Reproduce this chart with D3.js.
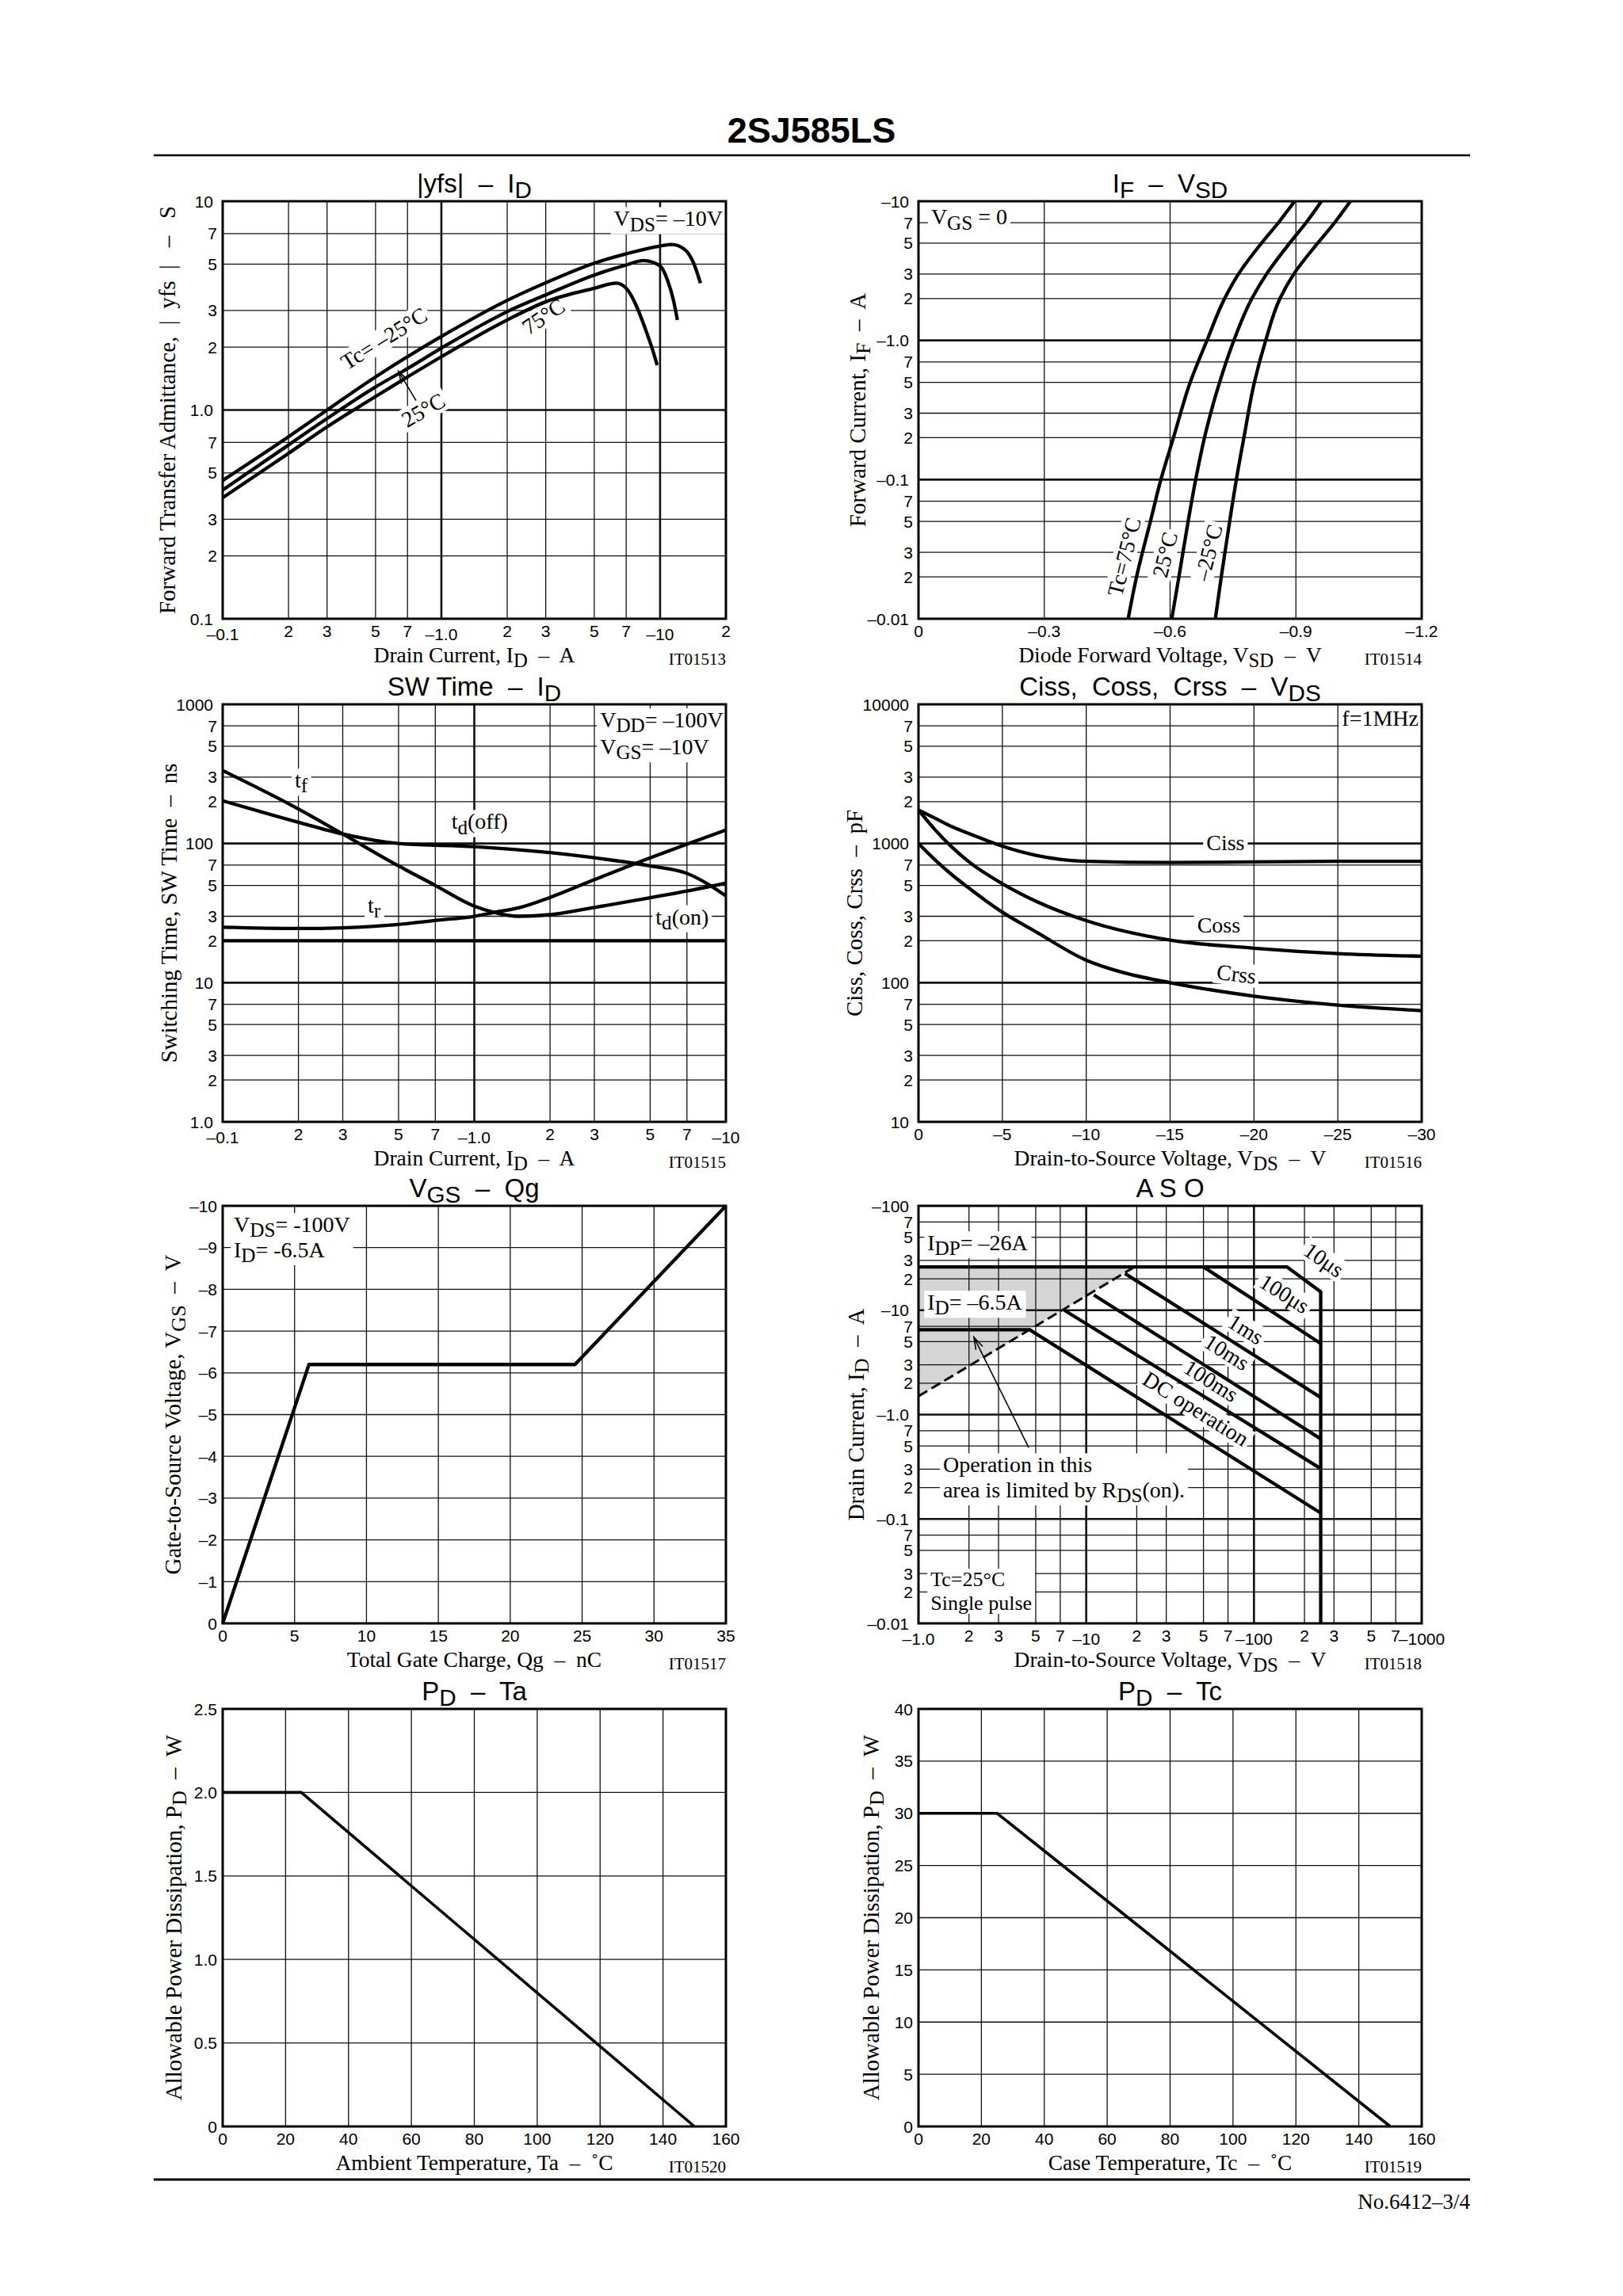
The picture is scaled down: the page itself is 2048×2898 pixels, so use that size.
<!DOCTYPE html>
<html>
<head>
<meta charset="utf-8">
<title>2SJ585LS</title>
<script src="https://cdn.jsdelivr.net/npm/d3@7/dist/d3.min.js"></script>
<style>
  body { margin: 0; background: #fff; }
  svg { display: block; }
</style>
</head>
<body>
<svg id="page" width="2048" height="2898"></svg>
<script>
////////////////////////////////////////
// DATA
////////////////////////////////////////

// |yfs| - ID
const yfsXTicks = [0.1, 0.2, 0.3, 0.5, 0.7, 1, 2, 3, 5, 7, 10, 20];
const yfsXLabels = ["–0.1", "2", "3", "5", "7", "–1.0", "2", "3", "5", "7", "–10", "2"];
const yfsYTicks = [0.1, 0.2, 0.3, 0.5, 0.7, 1, 2, 3, 5, 7, 10];
const yfsYLabels = ["0.1", "2", "3", "5", "7", "1.0", "2", "3", "5", "7", "10"];
const yfsIdM25 = [0.1, 0.2, 0.3, 0.5, 0.7, 1, 2, 3, 5, 7, 10, 11.3, 12.9, 14.3, 15.3];
const yfsM25 = [0.46, 0.745, 1.0, 1.44, 1.8, 2.25, 3.35, 4.07, 5.05, 5.6, 6.1, 6.2, 5.9, 5.0, 4.05];
const yfsId25 = [0.1, 0.2, 0.3, 0.5, 0.7, 1, 2, 3, 5, 7, 8.4, 10, 10.8, 11.5, 12];
const yfs25 = [0.414, 0.68, 0.91, 1.29, 1.58, 1.98, 2.96, 3.56, 4.43, 4.95, 5.2, 4.9, 4.2, 3.37, 2.7];
const yfsId75 = [0.1, 0.2, 0.3, 0.5, 0.7, 1, 2, 3, 5, 6.3, 7.0, 7.7, 8.5, 9.2, 9.7];
const yfs75 = [0.38, 0.62, 0.83, 1.16, 1.44, 1.8, 2.7, 3.3, 3.83, 4.05, 3.83, 3.24, 2.5, 1.97, 1.64];

// IF - VSD
const ifXTicks = [0, 0.3, 0.6, 0.9, 1.2];
const ifXLabels = ["0", "–0.3", "–0.6", "–0.9", "–1.2"];
const ifYTicks = [0.01, 0.02, 0.03, 0.05, 0.07, 0.1, 0.2, 0.3, 0.5, 0.7, 1, 2, 3, 5, 7, 10];
const ifYLabels = ["–0.01", "2", "3", "5", "7", "–0.1", "2", "3", "5", "7", "–1.0", "2", "3", "5", "7", "–10"];
const ifCurrent = [0.01, 0.02, 0.05, 0.1, 0.2, 0.5, 1, 2, 3, 5, 7, 10];
const vsd75 = [0.50, 0.52, 0.553, 0.578, 0.608, 0.648, 0.688, 0.73, 0.763, 0.818, 0.858, 0.897];
const vsd25 = [0.604, 0.621, 0.643, 0.661, 0.682, 0.718, 0.752, 0.795, 0.83, 0.885, 0.924, 0.961];
const vsdM25 = [0.708, 0.722, 0.742, 0.758, 0.776, 0.801, 0.828, 0.862, 0.895, 0.952, 0.992, 1.03];

// SW Time - ID
const swXTicks = [0.1, 0.2, 0.3, 0.5, 0.7, 1, 2, 3, 5, 7, 10];
const swXLabels = ["–0.1", "2", "3", "5", "7", "–1.0", "2", "3", "5", "7", "–10"];
const swYTicks = [1, 2, 3, 5, 7, 10, 20, 30, 50, 70, 100, 200, 300, 500, 700, 1000];
const swYLabels = ["1.0", "2", "3", "5", "7", "10", "2", "3", "5", "7", "100", "2", "3", "5", "7", "1000"];
const swId = [0.1, 0.2, 0.3, 0.5, 0.7, 1, 1.2, 1.5, 2, 3, 5, 7, 10];
const swTf = [334, 177, 117, 69, 50, 35.5, 32, 30, 30.8, 34.7, 40.8, 45.6, 52];
const swTr = [25, 24.5, 24.8, 26.2, 28, 30, 32, 34.5, 41, 55, 79, 99, 125];
const swIdOff = [0.1, 0.2, 0.3, 0.5, 1, 2, 3, 5, 7, 8.5, 10];
const swTdOff = [203, 142, 117, 100, 95, 86, 79, 69, 61, 51, 42];
const swIdOn = [0.1, 10];
const swTdOn = [20, 20];

// Ciss, Coss, Crss - VDS
const capXTicks = [0, 5, 10, 15, 20, 25, 30];
const capXLabels = ["0", "–5", "–10", "–15", "–20", "–25", "–30"];
const capYTicks = [10, 20, 30, 50, 70, 100, 200, 300, 500, 700, 1000, 2000, 3000, 5000, 7000, 10000];
const capYLabels = ["10", "2", "3", "5", "7", "100", "2", "3", "5", "7", "1000", "2", "3", "5", "7", "10000"];
const capVds = [0, 1, 2, 3, 5, 7, 10, 15, 20, 25, 30];
const ciss = [1740, 1516, 1320, 1180, 957, 823, 745, 730, 737, 745, 745];
const coss = [1740, 1250, 940, 740, 514, 385, 279, 202, 177, 162, 155];
const crssVds = [0, 1, 2, 3, 4, 5, 7, 10, 12, 15, 20, 25, 30];
const crss = [1000, 760, 595, 479, 389, 321, 232, 145, 120, 100, 80, 69, 63];

// VGS - Qg
const qgXTicks = [0, 5, 10, 15, 20, 25, 30, 35];
const qgXLabels = ["0", "5", "10", "15", "20", "25", "30", "35"];
const qgYTicks = [0, 1, 2, 3, 4, 5, 6, 7, 8, 9, 10];
const qgYLabels = ["0", "–1", "–2", "–3", "–4", "–5", "–6", "–7", "–8", "–9", "–10"];
const qgCharge = [0, 6, 24.5, 35];
const qgVgs = [0, 6.2, 6.2, 10];

// ASO
const asoXTicks = [1, 2, 3, 5, 7, 10, 20, 30, 50, 70, 100, 200, 300, 500, 700, 1000];
const asoXLabels = ["–1.0", "2", "3", "5", "7", "–10", "2", "3", "5", "7", "–100", "2", "3", "5", "7", "–1000"];
const asoYTicks = [0.01, 0.02, 0.03, 0.05, 0.07, 0.1, 0.2, 0.3, 0.5, 0.7, 1, 2, 3, 5, 7, 10, 20, 30, 50, 70, 100];
const asoYLabels = ["–0.01", "2", "3", "5", "7", "–0.1", "2", "3", "5", "7", "–1.0", "2", "3", "5", "7", "–10", "2", "3", "5", "7", "–100"];
const asoIdpV = [1, 157, 250, 250];
const asoIdpI = [26, 26, 15, 0.01];
const aso100usV = [50, 250];
const aso100usI = [26, 4.8];
const aso1msV = [17, 250];
const aso1msI = [22.5, 1.46];
const aso10msV = [11.1, 250];
const aso10msI = [14, 0.586];
const aso100msV = [7.4, 250];
const aso100msI = [10, 0.304];
const asoDcV = [1, 4.6, 250];
const asoDcI = [6.5, 6.5, 0.114];
const asoRdsV = [1, 19.4];
const asoRdsI = [1.5, 26];

// PD - Ta / PD - Tc
const pdXTicks = [0, 20, 40, 60, 80, 100, 120, 140, 160];
const pdXLabels = ["0", "20", "40", "60", "80", "100", "120", "140", "160"];
const pdaYTicks = [0, 0.5, 1, 1.5, 2, 2.5];
const pdaYLabels = ["0", "0.5", "1.0", "1.5", "2.0", "2.5"];
const pdcYTicks = [0, 5, 10, 15, 20, 25, 30, 35, 40];
const pdcYLabels = ["0", "5", "10", "15", "20", "25", "30", "35", "40"];
const pdTemp = [0, 25, 150];
const pdTa = [2, 2, 0];
const pdTc = [30, 30, 0];

////////////////////////////////////////
// HELPERS
////////////////////////////////////////

const svg = d3.select("#page");
const W = 635, H = 527;
const colLeft = [281, 1159];
const rowTop = [254, 889, 1522, 2157];
const SANS = '"Liberation Sans", Arial, Helvetica, sans-serif';
const SERIF = '"Liberation Serif", "Times New Roman", serif';

const zip = (xs, ys) => xs.map((v, i) => [v, ys[i]]);

// "V_{DS}= –10V" -> tspans with subscripts; an array gives several lines
function rich(t, lines, fs, lh) {
    let shift = 0;
    [].concat(lines).forEach((s, li) => {
        let newLine = li > 0;
        s.split(/(_\{[^}]*\})/).forEach(p => {
            if (!p) return;
            const sub = p.startsWith("_{");
            const ts = t.append("tspan").text(sub ? p.slice(2, -1) : p);
            const want = sub ? fs * 0.22 : 0;
            let dy = want - shift;
            if (newLine) { ts.attr("x", 0); dy += lh; newLine = false; }
            if (dy !== 0) ts.attr("dy", dy);
            shift = want;
            if (sub) ts.style("font-size", (fs * 0.9) + "px");
        });
    });
}

// text with an optional white box behind it (hides the grid)
function label(g, x, y, s, o = {}) {
    const fs = o.fs || 28;
    const grp = g.append("g").attr("transform", `translate(${x},${y}) rotate(${o.rot || 0})`);
    const t = grp.append("text")
        .attr("text-anchor", o.anchor || "start")
        .style("font-family", o.sans ? SANS : SERIF)
        .style("font-size", fs + "px")
        .style("white-space", "pre")
        .attr("fill", "#000");
    rich(t, s, fs, o.lh || fs * 1.15);
    if (o.bg !== false) {
        const b = t.node().getBBox();
        grp.insert("rect", "text")
            .attr("x", b.x - 4).attr("y", b.y + 1)
            .attr("width", b.width + 8).attr("height", b.height - 2)
            .attr("fill", "#fff");
    }
    return grp;
}

function arrow(g, x1, y1, x2, y2) {
    const a = Math.atan2(y2 - y1, x2 - x1), L = 16, s = 0.3;
    g.append("path")
        .attr("d", `M${x1},${y1}L${x2},${y2}M${x2 - L * Math.cos(a - s)},${y2 - L * Math.sin(a - s)}L${x2},${y2}L${x2 - L * Math.cos(a + s)},${y2 - L * Math.sin(a + s)}`)
        .attr("fill", "none").attr("stroke", "#000").attr("stroke-width", 1.6);
}

function chart(o) {
    const g = svg.append("g").attr("transform", `translate(${o.left},${o.top})`);
    const x = (o.xLog ? d3.scaleLog() : d3.scaleLinear()).domain(o.xDomain).range([0, W]);
    const y = (o.yLog ? d3.scaleLog() : d3.scaleLinear()).domain(o.yDomain).range([H, 0]);
    const near = (a, b) => Math.abs(a - b) <= 1e-9 * Math.max(1, Math.abs(b));
    const isMajor = (v, list) => (list || []).some(m => near(v, m));
    const isDecade = v => v > 0 && near(Math.log10(v), Math.round(Math.log10(v)));

    const fill = g.append("g");
    const grid = g.append("g");
    const notes = g.append("g");
    const frame = g.append("g");
    const marks = g.append("g");

    o.xTicks.forEach(v => {
        if (near(v, o.xDomain[0]) || near(v, o.xDomain[1])) return;
        grid.append("line").attr("x1", x(v)).attr("x2", x(v)).attr("y1", 0).attr("y2", H)
            .attr("stroke", "#111").attr("stroke-width", isMajor(v, o.xMajor) ? 2.6 : 1.3);
    });
    o.yTicks.forEach(v => {
        if (near(v, o.yDomain[0]) || near(v, o.yDomain[1])) return;
        grid.append("line").attr("x1", 0).attr("x2", W).attr("y1", y(v)).attr("y2", y(v))
            .attr("stroke", "#111").attr("stroke-width", isMajor(v, o.yMajor) ? 2.6 : 1.3);
    });
    frame.append("rect").attr("width", W).attr("height", H)
        .attr("fill", "none").attr("stroke", "#000").attr("stroke-width", 3);

    // tick labels (decade labels of log axes sit a little lower)
    o.xTicks.forEach((v, i) => {
        g.append("text")
            .attr("x", x(v)).attr("y", H + (o.xLog && isDecade(v) ? 26.5 : 22.5))
            .attr("text-anchor", "middle")
            .style("font-family", SANS).style("font-size", "21px")
            .text(o.xLabels[i]);
    });
    o.yTicks.forEach((v, i) => {
        g.append("text")
            .attr("x", o.yLog && isDecade(v) ? -12 : -7).attr("y", y(v)).attr("dy", "0.36em")
            .attr("text-anchor", "end")
            .style("font-family", SANS).style("font-size", "21px")
            .text(o.yLabels[i]);
    });

    // titles
    label(g, W / 2, -11, o.title, { fs: 33, sans: true, anchor: "middle", bg: false });
    label(g, W / 2, H + 55, o.xTitle, { fs: 27.5, anchor: "middle", bg: false });
    label(g, -o.yOff + 10, H / 2, o.yTitle, { fs: 29, anchor: "middle", rot: -90, bg: false });
    label(g, W, H + 58, o.code, { fs: 21, anchor: "end", bg: false });

    return { g, x, y, fill, notes, marks };
}

function drawLine(c, xs, ys, o = {}) {
    const line = d3.line()
        .x(d => c.x(d[0])).y(d => c.y(d[1]))
        .curve(o.curve || d3.curveLinear);
    c.marks.append("path")
        .attr("d", line(zip(xs, ys)))
        .attr("fill", "none").attr("stroke", "#000")
        .attr("stroke-width", o.width || 4.3)
        .attr("stroke-linejoin", "round")
        .attr("stroke-dasharray", o.dash || null);
}

////////////////////////////////////////
// PAGE HEADER / FOOTER
////////////////////////////////////////

svg.append("rect").attr("width", 2048).attr("height", 2898).attr("fill", "#fff");
svg.append("text").attr("x", 1024).attr("y", 180).attr("text-anchor", "middle")
    .style("font-family", SANS).style("font-size", "45px").style("font-weight", "bold")
    .text("2SJ585LS");
svg.append("line").attr("x1", 194).attr("x2", 1855).attr("y1", 196).attr("y2", 196)
    .attr("stroke", "#000").attr("stroke-width", 2.5);
svg.append("line").attr("x1", 194).attr("x2", 1855).attr("y1", 2751).attr("y2", 2751)
    .attr("stroke", "#000").attr("stroke-width", 3);
svg.append("text").attr("x", 1855).attr("y", 2788).attr("text-anchor", "end")
    .style("font-family", SERIF).style("font-size", "27px")
    .text("No.6412–3/4");

////////////////////////////////////////
// |yfs| - ID
////////////////////////////////////////

const c1 = chart({
    left: colLeft[0], top: rowTop[0], xLog: true, yLog: true,
    xDomain: [0.1, 20], yDomain: [0.1, 10],
    xTicks: yfsXTicks, xLabels: yfsXLabels, yTicks: yfsYTicks, yLabels: yfsYLabels,
    xMajor: [1, 10], yMajor: [1],
    title: "|yfs|  –  I_{D}", xTitle: "Drain Current, I_{D}  –  A",
    yTitle: "Forward Transfer Admittance,  |  yfs  |   –   S", yOff: 70, code: "IT01513"
});
label(c1.notes, c1.x(20) - 4, c1.y(7.6), "V_{DS}= –10V", { anchor: "end" });
label(c1.notes, c1.x(0.57), c1.y(2.05), "Tc= –25°C", { anchor: "middle", rot: -32 });
label(c1.notes, c1.x(3.06), c1.y(2.62), "75°C", { anchor: "middle", rot: -34 });
label(c1.notes, c1.x(0.86), c1.y(0.93), "25°C", { anchor: "middle", rot: -30 });
arrow(c1.notes, c1.x(0.766), c1.y(1.11), c1.x(0.637), c1.y(1.53));
drawLine(c1, yfsIdM25, yfsM25, { curve: d3.curveMonotoneX });
drawLine(c1, yfsId25, yfs25, { curve: d3.curveMonotoneX });
drawLine(c1, yfsId75, yfs75, { curve: d3.curveMonotoneX });

////////////////////////////////////////
// IF - VSD
////////////////////////////////////////

const c2 = chart({
    left: colLeft[1], top: rowTop[0], xLog: false, yLog: true,
    xDomain: [0, 1.2], yDomain: [0.01, 10],
    xTicks: ifXTicks, xLabels: ifXLabels, yTicks: ifYTicks, yLabels: ifYLabels,
    yMajor: [0.1, 1],
    title: "I_{F}  –  V_{SD}", xTitle: "Diode Forward Voltage, V_{SD}  –  V",
    yTitle: "Forward Current, I_{F}  –  A", yOff: 77, code: "IT01514"
});
label(c2.notes, c2.x(0.03), c2.y(6.8), "V_{GS} = 0");
label(c2.notes, c2.x(0.508), c2.y(0.027), "Tc=75°C", { anchor: "middle", rot: -76 });
label(c2.notes, c2.x(0.605), c2.y(0.028), "25°C", { anchor: "middle", rot: -76 });
label(c2.notes, c2.x(0.709), c2.y(0.029), "–25°C", { anchor: "middle", rot: -76 });
drawLine(c2, vsd75, ifCurrent, { curve: d3.curveMonotoneY });
drawLine(c2, vsd25, ifCurrent, { curve: d3.curveMonotoneY });
drawLine(c2, vsdM25, ifCurrent, { curve: d3.curveMonotoneY });

////////////////////////////////////////
// SW Time - ID
////////////////////////////////////////

const c3 = chart({
    left: colLeft[0], top: rowTop[1], xLog: true, yLog: true,
    xDomain: [0.1, 10], yDomain: [1, 1000],
    xTicks: swXTicks, xLabels: swXLabels, yTicks: swYTicks, yLabels: swYLabels,
    xMajor: [1], yMajor: [10, 100],
    title: "SW Time  –  I_{D}", xTitle: "Drain Current, I_{D}  –  A",
    yTitle: "Switching Time, SW Time  –  ns", yOff: 68, code: "IT01515"
});
label(c3.notes, c3.x(3.16), c3.y(683), ["V_{DD}= –100V", "V_{GS}= –10V"], { lh: 34 });
label(c3.notes, c3.x(0.205), c3.y(252), "t_{f}", { anchor: "middle" });
label(c3.notes, c3.x(0.4), c3.y(32), "t_{r}", { anchor: "middle" });
label(c3.notes, c3.x(1.05), c3.y(127), "t_{d}(off)", { anchor: "middle" });
label(c3.notes, c3.x(6.7), c3.y(26.3), "t_{d}(on)", { anchor: "middle" });
drawLine(c3, swId, swTf, { curve: d3.curveMonotoneX });
drawLine(c3, swId, swTr, { curve: d3.curveMonotoneX });
drawLine(c3, swIdOff, swTdOff, { curve: d3.curveMonotoneX });
drawLine(c3, swIdOn, swTdOn);

////////////////////////////////////////
// Ciss, Coss, Crss - VDS
////////////////////////////////////////

const c4 = chart({
    left: colLeft[1], top: rowTop[1], xLog: false, yLog: true,
    xDomain: [0, 30], yDomain: [10, 10000],
    xTicks: capXTicks, xLabels: capXLabels, yTicks: capYTicks, yLabels: capYLabels,
    yMajor: [100, 1000],
    title: "Ciss,  Coss,  Crss  –  V_{DS}", xTitle: "Drain-to-Source Voltage, V_{DS}  –  V",
    yTitle: "Ciss, Coss, Crss  –  pF", yOff: 81, code: "IT01516"
});
label(c4.notes, c4.x(30) - 4, c4.y(7000), "f=1MHz", { anchor: "end" });
label(c4.notes, c4.x(18.3), c4.y(891), "Ciss", { anchor: "middle" });
label(c4.notes, c4.x(17.9), c4.y(228), "Coss", { anchor: "middle" });
label(c4.notes, c4.x(18.9), c4.y(102), "Crss", { anchor: "middle", rot: 7 });
drawLine(c4, capVds, ciss, { curve: d3.curveMonotoneX });
drawLine(c4, capVds, coss, { curve: d3.curveMonotoneX });
drawLine(c4, crssVds, crss, { curve: d3.curveMonotoneX });

////////////////////////////////////////
// VGS - Qg
////////////////////////////////////////

const c5 = chart({
    left: colLeft[0], top: rowTop[2], xLog: false, yLog: false,
    xDomain: [0, 35], yDomain: [0, 10],
    xTicks: qgXTicks, xLabels: qgXLabels, yTicks: qgYTicks, yLabels: qgYLabels,
    title: "V_{GS}  –  Qg", xTitle: "Total Gate Charge, Qg  –  nC",
    yTitle: "Gate-to-Source Voltage, V_{GS}  –  V", yOff: 63, code: "IT01517"
});
label(c5.notes, c5.x(0.77), c5.y(9.37), ["V_{DS}= -100V", "I_{D}= -6.5A"], { lh: 31.6 });
drawLine(c5, qgCharge, qgVgs);

////////////////////////////////////////
// ASO
////////////////////////////////////////

const c6 = chart({
    left: colLeft[1], top: rowTop[2], xLog: true, yLog: true,
    xDomain: [1, 1000], yDomain: [0.01, 100],
    xTicks: asoXTicks, xLabels: asoXLabels, yTicks: asoYTicks, yLabels: asoYLabels,
    xMajor: [10, 100], yMajor: [0.1, 1, 10],
    title: "A S O", xTitle: "Drain-to-Source Voltage, V_{DS}  –  V",
    yTitle: "Drain Current, I_{D}  –  A", yOff: 79, code: "IT01518"
});
// area limited by RDS(on)
c6.fill.append("path")
    .attr("d", d3.line().x(d => c6.x(d[0])).y(d => c6.y(d[1]))(
        [[asoRdsV[0], asoIdpI[0]], [asoRdsV[1], asoRdsI[1]], [asoRdsV[0], asoRdsI[0]]]))
    .attr("fill", "#d5d5d5");
const dcAngle = Math.atan2(c6.y(asoDcI[2]) - c6.y(asoDcI[1]), c6.x(asoDcV[2]) - c6.x(asoDcV[1])) * 180 / Math.PI;
label(c6.notes, c6.x(1.13), c6.y(37.6), "I_{DP}= –26A");
label(c6.notes, c6.x(1.13), c6.y(10.1), "I_{D}= –6.5A");
label(c6.notes, c6.x(246), c6.y(26.5), "10μs", { anchor: "middle", rot: dcAngle + 3 });
label(c6.notes, c6.x(144), c6.y(12.5), "100μs", { anchor: "middle", rot: dcAngle });
label(c6.notes, c6.x(84.7), c6.y(5.7), "1ms", { anchor: "middle", rot: dcAngle });
label(c6.notes, c6.x(65.2), c6.y(3.43), "10ms", { anchor: "middle", rot: dcAngle });
label(c6.notes, c6.x(52.5), c6.y(1.83), "100ms", { anchor: "middle", rot: dcAngle });
label(c6.notes, c6.x(42.6), c6.y(0.99), "DC operation", { anchor: "middle", rot: dcAngle });
label(c6.notes, c6.x(1.4), c6.y(0.28), ["Operation in this", "area is limited by R_{DS}(on)."], { lh: 31.7 });
label(c6.notes, c6.x(1.18), c6.y(0.0212) - 4, ["Tc=25°C", "Single pulse"], { fs: 26, lh: 30 });
arrow(c6.notes, c6.x(4.54), c6.y(0.484), c6.x(2.14), c6.y(5.5));
drawLine(c6, asoRdsV, asoRdsI, { width: 3, dash: "13,6" });
drawLine(c6, asoIdpV, asoIdpI);
drawLine(c6, aso100usV, aso100usI);
drawLine(c6, aso1msV, aso1msI);
drawLine(c6, aso10msV, aso10msI);
drawLine(c6, aso100msV, aso100msI);
drawLine(c6, asoDcV, asoDcI);

////////////////////////////////////////
// PD - Ta
////////////////////////////////////////

const c7 = chart({
    left: colLeft[0], top: rowTop[3], xLog: false, yLog: false,
    xDomain: [0, 160], yDomain: [0, 2.5],
    xTicks: pdXTicks, xLabels: pdXLabels, yTicks: pdaYTicks, yLabels: pdaYLabels,
    title: "P_{D}  –  Ta", xTitle: "Ambient Temperature, Ta  –  ˚C",
    yTitle: "Allowable Power Dissipation, P_{D}  –  W", yOff: 62, code: "IT01520"
});
drawLine(c7, pdTemp, pdTa, { width: 3.6 });

////////////////////////////////////////
// PD - Tc
////////////////////////////////////////

const c8 = chart({
    left: colLeft[1], top: rowTop[3], xLog: false, yLog: false,
    xDomain: [0, 160], yDomain: [0, 40],
    xTicks: pdXTicks, xLabels: pdXLabels, yTicks: pdcYTicks, yLabels: pdcYLabels,
    title: "P_{D}  –  Tc", xTitle: "Case Temperature, Tc  –  ˚C",
    yTitle: "Allowable Power Dissipation, P_{D}  –  W", yOff: 60, code: "IT01519"
});
drawLine(c8, pdTemp, pdTc, { width: 3.6 });
</script>
</body>
</html>
